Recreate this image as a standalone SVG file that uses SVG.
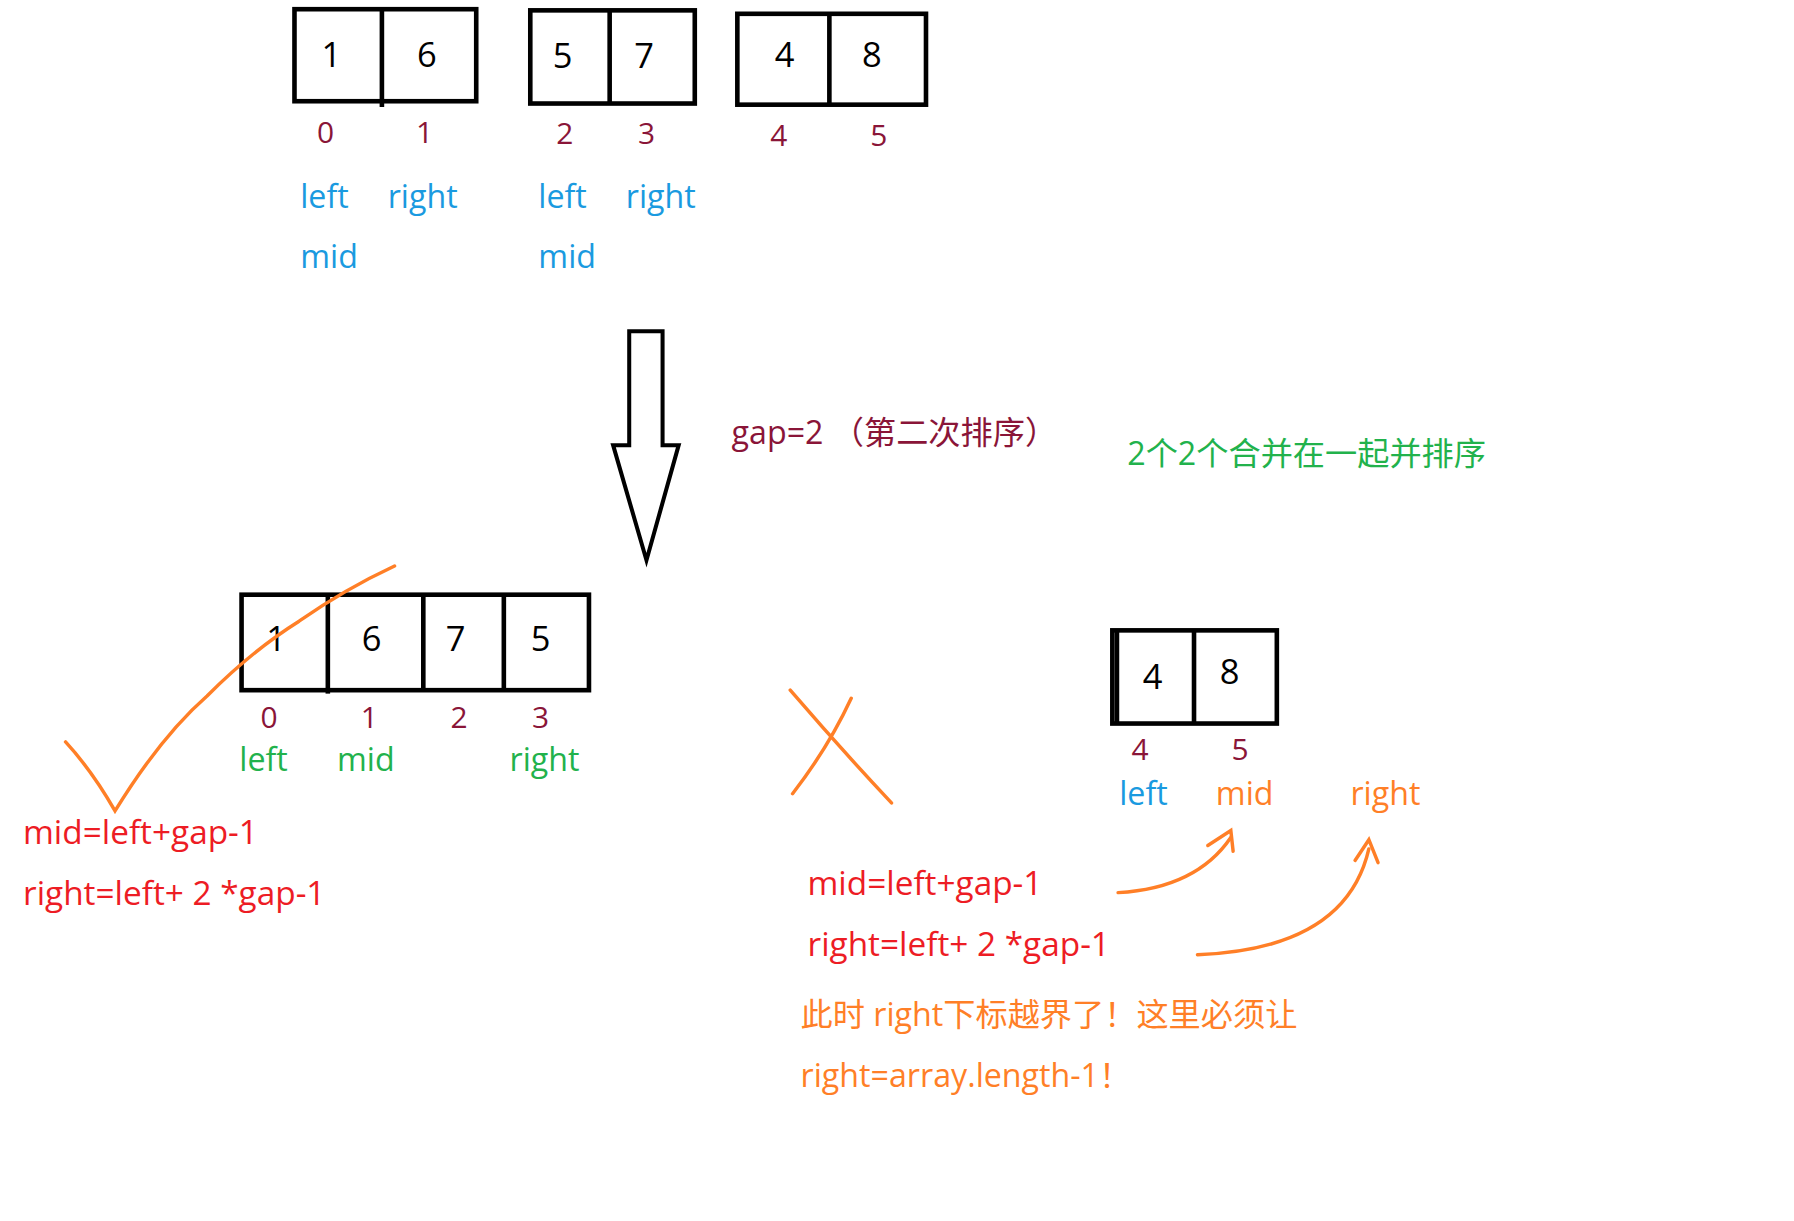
<svg xmlns="http://www.w3.org/2000/svg" width="1794" height="1221" viewBox="0 0 1794 1221">
<style>
text{font-family:"Open Sans","Noto Sans CJK SC",sans-serif;font-size:28px}
.box{fill:none;stroke:#000;stroke-width:4}
.dg{fill:#000;font-size:30px}
.ix{fill:#8a1538;font-size:26px}
.bl{fill:#1a9ae0}
.gr{fill:#22b24c}
.rd{fill:#ed1c24;font-size:29px}
.or{fill:#ff7f27}
.os{fill:none;stroke:#ff7f27;stroke-width:3;stroke-linecap:round}
</style>
<rect width="1794" height="1221" fill="#fff"/>
<g transform="scale(1.1503)">
<g id="arr1"><rect class="box" x="256" y="8" width="158" height="80"/><line class="box" x1="332" y1="8" x2="332" y2="93"/>
<text class="dg" x="288" y="58" text-anchor="middle">1</text><text class="dg" x="371" y="58" text-anchor="middle">6</text></g>
<g id="arr2"><rect class="box" x="461" y="9" width="143" height="81"/><line class="box" x1="530" y1="9" x2="530" y2="90"/>
<text class="dg" x="489" y="59" text-anchor="middle">5</text><text class="dg" x="560" y="59" text-anchor="middle">7</text></g>
<g id="arr3"><rect class="box" x="641" y="12" width="164" height="79"/><line class="box" x1="721" y1="12" x2="721" y2="91"/>
<text class="dg" x="682" y="58" text-anchor="middle">4</text><text class="dg" x="758" y="58" text-anchor="middle">8</text></g>
<g id="labels1">
<text class="ix" x="283" y="124" text-anchor="middle">0</text><text class="ix" x="369" y="124" text-anchor="middle">1</text>
<text class="ix" x="491" y="125" text-anchor="middle">2</text><text class="ix" x="562" y="125" text-anchor="middle">3</text>
<text class="ix" x="677" y="127" text-anchor="middle">4</text><text class="ix" x="764" y="127" text-anchor="middle">5</text>
<text class="bl" x="261" y="181">left</text><text class="bl" x="337" y="181">right</text>
<text class="bl" x="468" y="181">left</text><text class="bl" x="544" y="181">right</text>
<text class="bl" x="261" y="233">mid</text><text class="bl" x="468" y="233">mid</text>
</g>
<g id="connectors">
<path d="M547,288 H576 V387 H590 L562,487 L533,387 H547 Z" fill="none" stroke="#000" stroke-width="3.5"/>
<path class="os" d="M972,776 Q1040,772 1070,728"/><path class="os" d="M1050,735 L1070,722 L1072,740"/>
<path class="os" d="M1041,830 Q1170,825 1190,738"/><path class="os" d="M1178,748 L1190,730 L1198,750"/>
</g>
<text x="636" y="386" fill="#8a1538" font-size="29">gap=2 （第二次排序）</text>
<text class="gr" x="980" y="404" font-size="29.5">2个2个合并在一起并排序</text>
<g id="arr4"><rect class="box" x="210" y="517" width="302" height="83"/>
<line class="box" x1="285" y1="517" x2="285" y2="603"/><line class="box" x1="368" y1="517" x2="368" y2="600"/><line class="box" x1="438" y1="517" x2="438" y2="600"/>
<text class="dg" x="240" y="566" text-anchor="middle">1</text><text class="dg" x="323" y="566" text-anchor="middle">6</text>
<text class="dg" x="396" y="566" text-anchor="middle">7</text><text class="dg" x="470" y="566" text-anchor="middle">5</text>
<text class="ix" x="234" y="633" text-anchor="middle">0</text><text class="ix" x="321" y="633" text-anchor="middle">1</text>
<text class="ix" x="399" y="633" text-anchor="middle">2</text><text class="ix" x="470" y="633" text-anchor="middle">3</text>
<text class="gr" x="208" y="670">left</text><text class="gr" x="293" y="670">mid</text><text class="gr" x="443" y="670">right</text>
</g>
<path class="os" d="M57,645 Q80,670 100,705 Q140,640 180,605 Q220,565 260,540 Q300,512 343,492"/>
<text class="rd" x="20" y="734">mid=left+gap-1</text>
<text class="rd" x="20" y="787">right=left+ 2 *gap-1</text>
<path class="os" d="M687,600 Q730,650 775,698 M740,607 Q720,650 689,690"/>
<g id="arr5"><rect class="box" x="967" y="548" width="143" height="81"/><line class="box" x1="1038" y1="548" x2="1038" y2="629"/><line class="box" x1="971" y1="548" x2="971" y2="629"/>
<text class="dg" x="1002" y="599" text-anchor="middle">4</text><text class="dg" x="1069" y="595" text-anchor="middle">8</text>
<text class="ix" x="991" y="661" text-anchor="middle">4</text><text class="ix" x="1078" y="661" text-anchor="middle">5</text>
<text class="bl" x="973" y="700">left</text><text class="or" x="1057" y="700">mid</text><text class="or" x="1174" y="700">right</text>
</g>
<text class="rd" x="702" y="778">mid=left+gap-1</text>
<text class="rd" x="702" y="831">right=left+ 2 *gap-1</text>
<text class="or" x="696" y="892" font-size="29">此时 right下标越界了！这里必须让</text>
<text class="or" x="696" y="945">right=array.length-1！</text>
</g>
</svg>
